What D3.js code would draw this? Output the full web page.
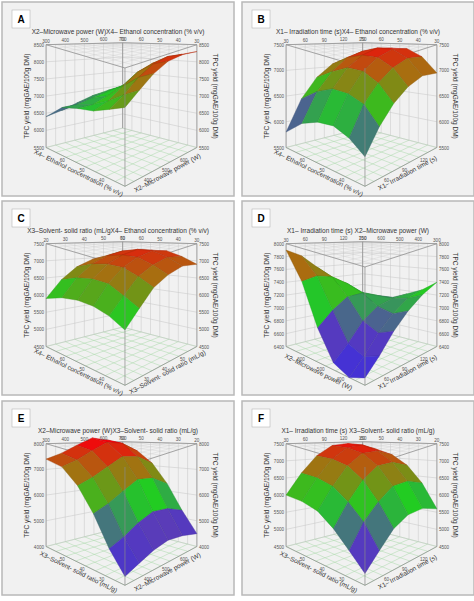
<!DOCTYPE html><html><head><meta charset="utf-8"><script src="https://cdn.jsdelivr.net/npm/d3@7"></script>
<style>body{margin:0;background:#fff}text{font-family:"Liberation Sans",Arial,sans-serif}</style></head><body>
<svg id="c" width="474" height="601"></svg>
<script>
const panelLabels=["A","B","C","D","E","F"];
const topTitles=["X2–Microwave power (W)X4– Ethanol concentration (% v/v)","X1– Irradiation time (s)X4– Ethanol concentration (% v/v)","X3–Solvent- solid ratio (mL/gX4– Ethanol concentration (% v/v)","X1– Irradiation time (s)   X2–Microwave power (W)","X2–Microwave power (W)X3–Solvent- solid ratio (mL/g)","X1– Irradiation time (s)   X3–Solvent- solid ratio (mL/g)"];
const leftTitles=["X4– Ethanol concentration (% v/v)","X4– Ethanol concentration (% v/v)","X4– Ethanol concentration (% v/v)","X2–Microwave power (W)","X3–Solvent- solid ratio (mL/g)","X3–Solvent- solid ratio (mL/g)"];
const rightTitles=["X2–Microwave power (W)","X1– Irradiation time (s)","X3–Solvent- solid ratio (mL/g)","X1– Irradiation time (s)","X2–Microwave power (W)","X1– Irradiation time (s)"];
const zTicks=[[5500,6000,6500,7000,7500,8000,8500],[5500,6000,6500,7000,7500],[4500,5000,5500,6000,6500,7000,7500],[6400,6600,6800,7000,7200,7400,7600,7800,8000],[4000,5000,6000,7000,8000],[4500,5000,5500,6000,6500,7000,7500]];
const leftTicks=[[70,60,50,40,30],[70,60,50,40,30],[70,60,50,40,30],[700,600,500,400,300],[60,50,40,30,20],[60,50,40,30,20]];
const rightTicks=[[700,600,500,400,300],[150,120,90,60,30],[60,50,40,30,20],[150,120,90,60,30],[700,600,500,400,300],[150,120,90,60,30]];
const surfA=[[7500,7800,8100,8300,8350,8300],[7300,7550,7900,8150,8250,8200],[7100,7250,7550,7850,8000,8000],[7000,7000,7150,7350,7500,7550],[6850,6850,6950,7050,7150,7200],[6400,6500,6650,6800,6900,6950]];
const surfB=[[6000,6400,6700,6900,7000,6950],[6200,6700,7000,7200,7300,7250],[6300,6800,7150,7350,7450,7400],[6250,6800,7150,7350,7450,7400],[6100,6650,7000,7250,7350,7300],[5800,6400,6800,7050,7150,7100]];
const surfC=[[5900,6300,6700,6900,7000,6900],[6100,6500,6900,7100,7200,7100],[6200,6700,7050,7250,7350,7250],[6200,6700,7050,7250,7350,7250],[6100,6600,6950,7150,7250,7150],[5900,6400,6750,6950,7050,6950]];
const surfD=[[6500,6700,6950,7150,7300,7400],[6400,6600,6850,7050,7200,7250],[6500,6700,6950,7100,7150,7150],[6900,7100,7250,7250,7150,7050],[7500,7550,7500,7350,7150,6950],[7900,7800,7600,7350,7100,6850]];
const surfE=[[4300,4500,4700,4800,4700,4500],[5000,5200,5500,5700,5600,5300],[6000,6200,6500,6800,6700,6300],[6800,7000,7300,7600,7500,7100],[7300,7500,7800,8100,8000,7600],[7400,7600,7900,8200,8100,7700]];
const surfF=[[4800,5200,5600,5800,5800,5600],[5200,5800,6200,6500,6500,6300],[5600,6200,6700,7000,7000,6800],[5900,6500,7000,7300,7300,7100],[6000,6600,7100,7400,7450,7250],[6000,6600,7100,7400,7450,7250]];
const surfaces=[surfA,surfB,surfC,surfD,surfE,surfF];

const svg=d3.select("#c");
const panels=[[2,2],[242,2],[2,201],[242,201],[2,401],[242,401]];
const pw=232,ph=194;
const color=d3.scaleLinear().domain([0,0.3,0.55,0.8,1]).range(["#3b2ee0","#5a3cb8","#22cc22","#a86e10","#ee0c0c"]);

panels.forEach((p,k)=>{
  const g=svg.append("g").attr("transform",`translate(${p[0]},${p[1]})`);
  g.append("rect").attr("width",pw).attr("height",ph).attr("fill","#f1f1f1").attr("stroke","#b8b8b8").attr("stroke-width",1.5);
  const F=[pw*0.53,ph*0.95],L=[pw*0.19,ph*0.75],R=[pw*0.84,ph*0.75],B=[pw*0.52,ph*0.65];
  const HF=ph*0.61,HL=ph*0.53,HR=ph*0.53,HB=ph*0.44;
  const zt=zTicks[k],z0=zt[0],z1=zt[zt.length-1];
  const zs=d3.scaleLinear().domain([z0,z1]).range([0,1]);
  const bl=(a,b,c,d,u,v)=>a*(1-u)*(1-v)+b*u*(1-v)+c*(1-u)*v+d*u*v;
  const P=(u,v,z)=>{
    const x=bl(F[0],L[0],R[0],B[0],u,v),y=bl(F[1],L[1],R[1],B[1],u,v),h=bl(HF,HL,HR,HB,u,v);
    return [x,y-zs(z)*h];
  };
  const line=(a,b,st,w)=>g.append("line").attr("x1",a[0]).attr("y1",a[1]).attr("x2",b[0]).attr("y2",b[1]).attr("stroke",st).attr("stroke-width",w);
  const t=d3.range(0,1.001,0.125);
  t.forEach(s=>{
    line(P(1,s,z0),P(1,s,z1),"#c4c4c4",0.5); line(P(s,1,z0),P(s,1,z1),"#c4c4c4",0.5);
    line(P(s,0,z0),P(s,1,z0),"#a8d8a8",0.5); line(P(0,s,z0),P(1,s,z0),"#a8d8a8",0.5);
    line(P(s,0,z1),P(s,1,z1),"#cfcfcf",0.4); line(P(0,s,z1),P(1,s,z1),"#cfcfcf",0.4);
  });
  zt.forEach(z=>{line(P(1,0,z),P(1,1,z),"#c4c4c4",0.5);line(P(0,1,z),P(1,1,z),"#c4c4c4",0.5);});
  [[[1,0,z0],[1,0,z1]],[[0,1,z0],[0,1,z1]],[[1,1,z0],[1,1,z1]],[[1,0,z1],[1,1,z1]],[[0,1,z1],[1,1,z1]],[[0,0,z1],[1,0,z1]],[[0,0,z1],[0,1,z1]],[[0,0,z0],[1,0,z0]],[[0,0,z0],[0,1,z0]]].forEach(e=>line(P(...e[0]),P(...e[1]),"#8a8a8a",0.7));
  const S=surfaces[k],n=S.length-1,m=S[0].length-1;
  const quads=[];
  for(let i=0;i<n;i++)for(let j=0;j<m;j++){
    const zz=[S[i][j],S[i+1][j],S[i+1][j+1],S[i][j+1]];
    quads.push({d:i+j,pts:[P(i/n,j/m,zz[0]),P((i+1)/n,j/m,zz[1]),P((i+1)/n,(j+1)/m,zz[2]),P(i/n,(j+1)/m,zz[3])],z:d3.mean(zz)});
  }
  quads.sort((a,b)=>b.d-a.d);
  quads.forEach(q=>{
    const c=color((q.z-z0)/(z1-z0));
    g.append("path").attr("d","M"+q.pts.join("L")+"Z").attr("fill",c).attr("stroke",d3.color(c).darker(0.5)).attr("stroke-width",0.4);
  });
  line(P(0,0,z0),P(0,0,z1),"#8a8a8a",0.7);
  const fs=4.6,tc="#555";
  zt.forEach(z=>{
    const a=P(1,0,z);g.append("text").attr("x",a[0]-2).attr("y",a[1]+2).attr("text-anchor","end").attr("font-size",fs).attr("fill",tc).text(z);
    const b=P(0,1,z);g.append("text").attr("x",b[0]+2).attr("y",b[1]+2).attr("font-size",fs).attr("fill",tc).text(z);
  });
  leftTicks[k].forEach((v,i,arr)=>{const s=i/(arr.length-1);const a=P(1-s,0,z0);if(s<0.99&&s>0.01){g.append("text").attr("x",a[0]-1).attr("y",a[1]+5).attr("text-anchor","end").attr("font-size",fs).attr("fill",tc).text(v);}
    const b=P(1-s,1,z1);g.append("text").attr("x",b[0]).attr("y",b[1]-2).attr("text-anchor","middle").attr("font-size",fs).attr("fill",tc).text(v);});
  rightTicks[k].forEach((v,i,arr)=>{const s=i/(arr.length-1);const a=P(0,1-s,z0);if(s<0.99&&s>0.01){g.append("text").attr("x",a[0]+1).attr("y",a[1]+5).attr("font-size",fs).attr("fill",tc).text(v);}
    const b=P(1,1-s,z1);g.append("text").attr("x",b[0]).attr("y",b[1]-2).attr("text-anchor","middle").attr("font-size",fs).attr("fill",tc).text(v);});
  const ang=Math.atan2(L[1]-F[1],L[0]-F[0])*180/Math.PI+180;
  const lm=P(0.55,0,z0);
  g.append("text").attr("transform",`translate(${lm[0]-4},${lm[1]+10}) rotate(${ang})`).attr("text-anchor","middle").attr("font-size",6.5).attr("fill","#333").text(leftTitles[k]);
  const ang2=Math.atan2(R[1]-F[1],R[0]-F[0])*180/Math.PI;
  const rm=P(0,0.55,z0);
  g.append("text").attr("transform",`translate(${rm[0]+4},${rm[1]+10}) rotate(${ang2})`).attr("text-anchor","middle").attr("font-size",6.5).attr("fill","#333").text(rightTitles[k]);
  const lt=P(1,0,(z0+z1)/2);
  g.append("text").attr("transform",`translate(${lt[0]-17},${lt[1]}) rotate(-90)`).attr("text-anchor","middle").attr("font-size",6.5).attr("fill","#333").text("TPC yield (mgGAE/100g DM)");
  const rt=P(0,1,(z0+z1)/2);
  g.append("text").attr("transform",`translate(${rt[0]+16},${rt[1]}) rotate(90)`).attr("text-anchor","middle").attr("font-size",6.5).attr("fill","#333").text("TPC yield (mgGAE/100g DM)");
  const tp=P(1,1,z1);
  g.append("text").attr("x",pw/2).attr("y",tp[1]-9).attr("text-anchor","middle").attr("font-size",6.5).attr("fill","#333").text(topTitles[k]);
  g.append("rect").attr("x",10).attr("y",8).attr("width",18).attr("height",18).attr("fill","#fff").attr("stroke","#aaa").attr("stroke-width",0.5);
  g.append("text").attr("x",19).attr("y",21).attr("text-anchor","middle").attr("font-size",10).attr("font-weight","bold").text(panelLabels[k]);
});
</script></body></html>
